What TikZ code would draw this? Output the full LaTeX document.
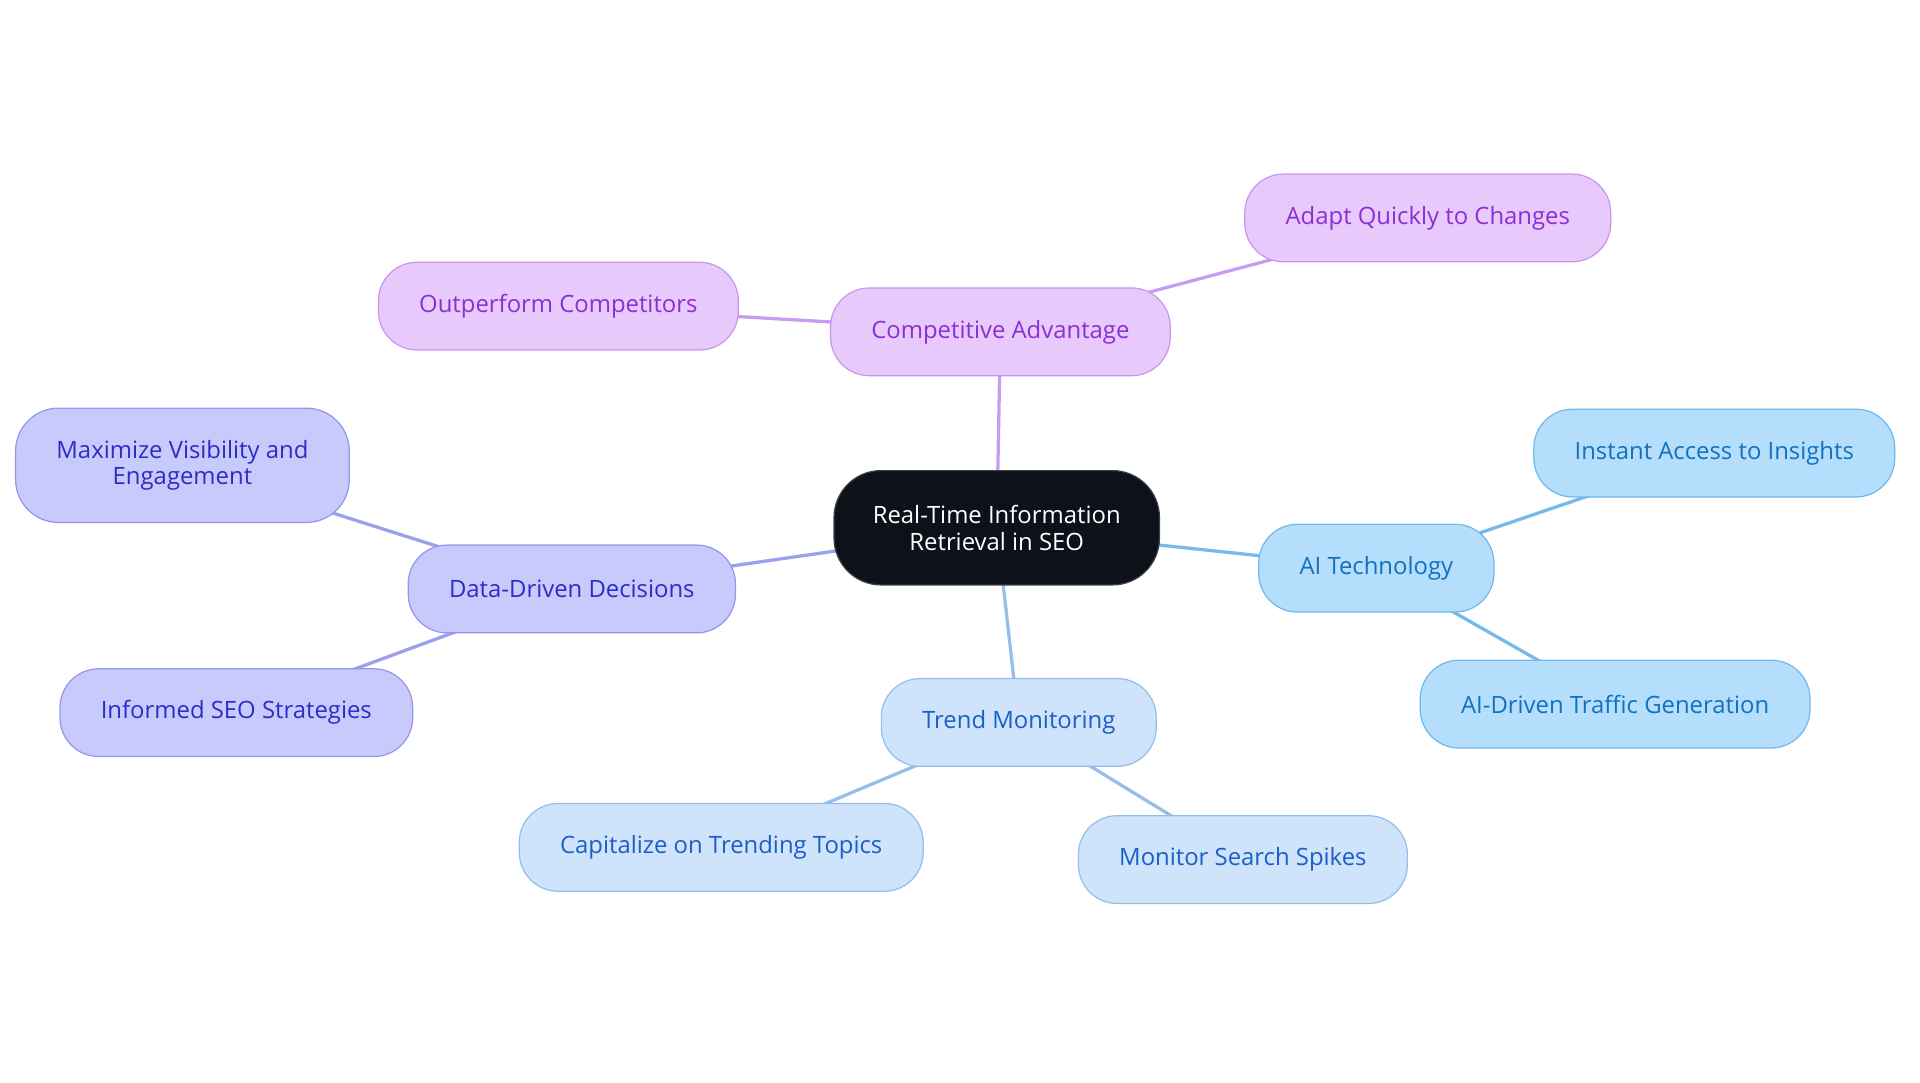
\documentclass[tikz,border=0pt]{standalone}
\usepackage{fontspec}
\setmainfont{Open Sans}
\usepackage{tikz}
\usetikzlibrary{arrows.meta,backgrounds}
\definecolor{rootfill}{HTML}{0C111A}
\definecolor{rootdraw}{HTML}{3A3F47}
\definecolor{purfill}{HTML}{E8C9FC}
\definecolor{purdraw}{HTML}{C697EE}
\definecolor{purtext}{HTML}{8B2FD5}
\definecolor{purline}{HTML}{C89CF2}
\definecolor{indfill}{HTML}{C9CAFC}
\definecolor{inddraw}{HTML}{9496EC}
\definecolor{indtext}{HTML}{2C2DC8}
\definecolor{indline}{HTML}{9C9EEE}
\definecolor{trdfill}{HTML}{CFE3FA}
\definecolor{trddraw}{HTML}{93BEEE}
\definecolor{trdtext}{HTML}{1B5FC9}
\definecolor{trdline}{HTML}{96BEEA}
\definecolor{aifill}{HTML}{B5DEFC}
\definecolor{aidraw}{HTML}{6FB9EC}
\definecolor{aitext}{HTML}{1172BE}
\definecolor{ailine}{HTML}{74BAEB}
\tikzset{
  topic/.style={rounded corners=19pt,minimum height=43pt,inner xsep=20pt,
    line width=0.6pt,align=center,font=\fontsize{11.7}{13.2}\selectfont},
  root/.style={topic,fill=rootfill,draw=rootdraw,text=white,rounded corners=23pt,
    minimum height=56pt,inner xsep=19pt},
  pur/.style={topic,fill=purfill,draw=purdraw,text=purtext},
  ind/.style={topic,fill=indfill,draw=inddraw,text=indtext},
  trd/.style={topic,fill=trdfill,draw=trddraw,text=trdtext},
  ai/.style={topic,fill=aifill,draw=aidraw,text=aitext},
  link/.style={line width=1.6pt}
}
\begin{document}
\begin{tikzpicture}[x=0.6pt,y=-0.6pt]
      \useasboundingbox (0,0) rectangle (1568,884.4);

      \node[root] (seo) at (814,431) {Real-Time Information\\Retrieval in SEO};

      \node[pur] (comp)  at (817,271) {Competitive Advantage};
      \node[pur] (adapt) at (1166,178) {Adapt Quickly to Changes};
      \node[pur] (outp)  at (456,250) {Outperform Competitors};

      \node[ind] (data) at (467,481) {Data-Driven Decisions};
      \node[ind, minimum height=56pt, rounded corners=21pt] (maxv) at (149,380) {Maximize Visibility and\\Engagement};
      \node[ind] (info) at (193,582) {Informed SEO Strategies};

      \node[trd] (trend) at (832,590) {Trend Monitoring};
      \node[trd] (capt)  at (589,692) {Capitalize on Trending Topics};
      \node[trd] (spike) at (1015,702) {Monitor Search Spikes};

      \node[ai] (aitech)  at (1124,464) {AI Technology};
      \node[ai] (instant) at (1400,370) {Instant Access to Insights};
      \node[ai] (traffic) at (1319,575) {AI-Driven Traffic Generation};

      % branches, behind the boxes
      \begin{scope}[on background layer]
      \foreach \from / \to / \col in
      {
        seo/comp/purline, comp/adapt/purline, comp/outp/purline,
        seo/data/indline, data/maxv/indline, data/info/indline,
        seo/trend/trdline, trend/capt/trdline, trend/spike/trdline,
        seo/aitech/ailine, aitech/instant/ailine, aitech/traffic/ailine}
      {
        \draw[link,\col] (\from.center) -- (\to.center);
      }
      \end{scope}

\end{tikzpicture}
\end{document}
